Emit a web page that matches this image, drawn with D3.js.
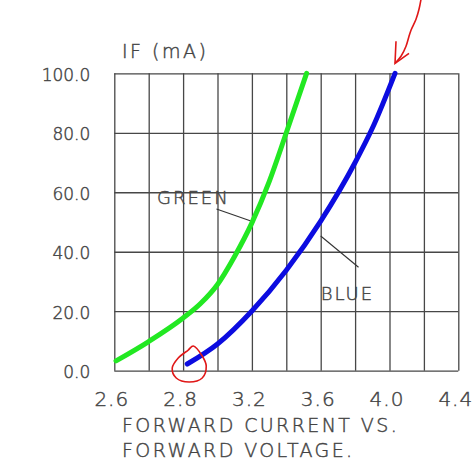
<!DOCTYPE html>
<html>
<head>
<meta charset="utf-8">
<script src="https://cdn.jsdelivr.net/npm/d3@7"></script>
<style>
  html, body { margin: 0; padding: 0; background: #fff; }
  text { font-family: "DejaVu Sans", sans-serif; font-weight: 200; fill: #3c3c3c; stroke: #4a4a4a; stroke-width: 0.45px; }
</style>
</head>
<body>
<script>
// tick labels as printed on the sheet (note uneven spacing 2.6 -> 2.8)
const xTickLabels = [2.6, 2.8, 3.2, 3.6, 4.0, 4.4];
const xGridValues = [2.6, 2.7, 2.8, 3.0, 3.2, 3.4, 3.6, 3.8, 4.0, 4.2, 4.4];
const yTickValues = [0, 20, 40, 60, 80, 100];

// forward voltage (V) vs forward current (mA)
const greenV  = [2.605, 2.70, 2.80, 2.90, 3.00, 3.10, 3.20, 3.30, 3.40, 3.518];
const greenMA = [3.3,   9.8,  17.7, 22.5, 29.0, 38.5, 49.7, 63.5, 80.0, 100.0];
const blueV   = [2.824, 3.00, 3.20, 3.40, 3.60, 3.80, 3.90, 4.032];
const blueMA  = [2.25,  9.0,  20.1, 33.8, 50.3, 70.0, 81.5, 100.0];

function DrawGraph(){
  const width = 474, height = 471;
  const margin = {top: 73.3, right: 15.7, bottom: 100.3, left: 114.3};
  const w = width - margin.left - margin.right,
        h = height - margin.top - margin.bottom;
  const col = w / 10;

  // piecewise: first label step is 0.2 V over 2 columns, the rest 0.4 V over 2 columns
  const xScale = d3.scaleLinear()
                  .domain(xTickLabels)
                  .range(xTickLabels.map((d, i) => i * 2 * col));
  const yScale = d3.scaleLinear().domain([0, 100]).range([h, 0]);

  const svg = d3.select('body').append('svg')
                .attr('width', width)
                .attr('height', height)
                .style('display', 'block');

  const g = svg.append('g')
               .attr('transform', `translate(${margin.left}, ${margin.top})`);

  // grid (vertical) via axis
  g.append('g')
    .attr('transform', `translate(0, ${h})`)
    .call(d3.axisBottom(xScale).tickValues(xGridValues).tickSize(h).tickFormat(''))
    .call(a => a.select('.domain').remove())
    .call(a => a.selectAll('line').attr('y2', -h).attr('stroke', '#474747').attr('stroke-width', 1.3));

  // grid (horizontal)
  g.append('g')
    .call(d3.axisLeft(yScale).tickValues(yTickValues).tickSize(-w).tickFormat(''))
    .call(a => a.select('.domain').remove())
    .call(a => a.selectAll('line').attr('stroke', '#474747').attr('stroke-width', 1.3));

  // x labels
  g.append('g')
    .attr('transform', `translate(0, ${h})`)
    .call(d3.axisBottom(xScale).tickValues(xTickLabels).tickSize(0).tickPadding(0).tickFormat(d3.format('.1f')))
    .call(a => a.select('.domain').remove())
    .call(a => a.selectAll('text')
      .attr('x', -3).attr('y', 28)
      .attr('dy', '0.35em')
      .attr('fill', null)
      .style('font-size', '20px')
      .style('letter-spacing', '1px')
      .style('font-family', '"DejaVu Sans", sans-serif'));

  // y labels
  g.append('g')
    .call(d3.axisLeft(yScale).tickValues(yTickValues).tickSize(0).tickPadding(24).tickFormat(d3.format('.1f')))
    .call(a => a.select('.domain').remove())
    .call(a => a.selectAll('text')
      .attr('dy', '0.4em')
      .attr('fill', null)
      .style('font-size', '17px')
      .style('font-family', '"DejaVu Sans", sans-serif'));

  // curves
  const line = d3.line()
                 .x(d => xScale(d[0]))
                 .y(d => yScale(d[1]))
                 .curve(d3.curveMonotoneX);

  g.append('path')
    .datum(greenV.map((v, i) => [v, greenMA[i]]))
    .attr('d', line)
    .attr('fill', 'none')
    .attr('stroke', '#22e822')
    .attr('stroke-width', 5)
    .attr('stroke-linecap', 'round');

  g.append('path')
    .datum(blueV.map((v, i) => [v, blueMA[i]]))
    .attr('d', line)
    .attr('fill', 'none')
    .attr('stroke', '#0c0ce0')
    .attr('stroke-width', 5)
    .attr('stroke-linecap', 'round');

  // leaders + labels
  const leaders = [
    {txt: 'GREEN', tx: 2.724, ty: 58.3, from: [2.994, 54.4], to: [3.19, 50.4]},
    {txt: 'BLUE',  tx: 3.6,   ty: 26.0, from: [3.6, 45.3],   to: [3.82, 34.8]}
  ];
  leaders.forEach(l => {
    g.append('line')
      .attr('x1', xScale(l.from[0])).attr('y1', yScale(l.from[1]))
      .attr('x2', xScale(l.to[0])).attr('y2', yScale(l.to[1]))
      .attr('stroke', '#333').attr('stroke-width', 1.1);
    g.append('text')
      .attr('x', xScale(l.tx)).attr('y', yScale(l.ty))
      .attr('dy', '0.35em')
      .style('font-size', '18px')
      .style('letter-spacing', '2px')
      .text(l.txt);
  });

  // axis title + caption
  svg.append('text')
    .attr('x', 122).attr('y', 51).attr('dy', '0.35em')
    .style('font-size', '19px').style('letter-spacing', '2.5px')
    .text('IF (mA)');
  svg.append('text')
    .attr('x', 122).attr('y', 425.5).attr('dy', '0.35em')
    .style('font-size', '19px').style('letter-spacing', '2.4px')
    .text('FORWARD CURRENT VS.');
  svg.append('text')
    .attr('x', 122).attr('y', 450.3).attr('dy', '0.35em')
    .style('font-size', '19px').style('letter-spacing', '2.4px')
    .text('FORWARD VOLTAGE.');

  // red hand annotations, anchored on the data ends
  const tipX = xScale(blueV[blueV.length - 1]) + margin.left,
        tipY = yScale(100) + margin.top - 10;
  const squiggle = [[26, -64], [24, -54], [21, -44], [16, -33], [14, -27], [11, -17], [6, -7], [0, 0]];
  svg.append('path')
    .attr('d', d3.line().curve(d3.curveCatmullRom)(squiggle.map(p => [tipX + p[0], tipY + p[1]])))
    .attr('fill', 'none').attr('stroke', '#e01818').attr('stroke-width', 1.6);
  svg.append('path')
    .attr('d', `M${tipX + 1},${tipY - 22} L${tipX},${tipY} L${tipX + 14},${tipY - 10}`)
    .attr('fill', 'none').attr('stroke', '#e01818').attr('stroke-width', 1.6);

  const cx = xScale(blueV[0]) + margin.left,
        cy = yScale(blueMA[0]) + margin.top;
  const loop = [[6, -18], [15, -8], [19, 2], [15, 14], [2, 18], [-11, 14], [-15, 4], [-9, -6], [1, -14]];
  svg.append('path')
    .attr('d', d3.line().curve(d3.curveCatmullRomClosed)(loop.map(p => [cx + p[0], cy + p[1]])))
    .attr('fill', 'none').attr('stroke', '#e01818').attr('stroke-width', 1.6);
}

DrawGraph();
</script>
</body>
</html>
